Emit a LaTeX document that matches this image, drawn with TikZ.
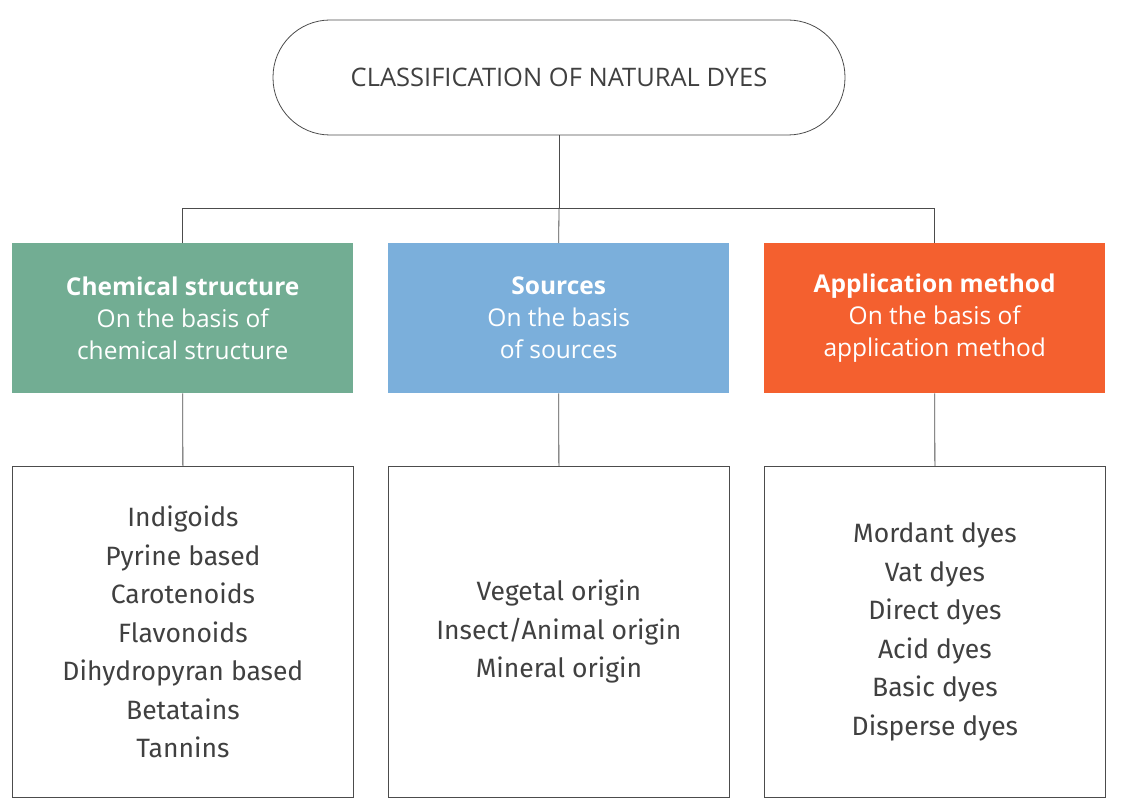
\documentclass[tikz,border=0pt]{standalone}
\usepackage{fontspec}
\setmainfont{Fira Sans}
\newfontfamily\hf{Open Sans}
\definecolor{cg}{HTML}{72AD93}
\definecolor{cb}{HTML}{7BAFDB}
\definecolor{co}{HTML}{F4602F}
\definecolor{tx}{HTML}{404040}
\begin{document}
\begin{tikzpicture}[x=1pt,y=-1pt,
  hdr/.style={draw=none,minimum width=341pt,minimum height=150pt,anchor=north west,text=white,align=center,font=\hf\fontsize{24.5}{32}\selectfont},
  lst/.style={draw=black!70,line width=0.8pt,fill=white,minimum width=341pt,minimum height=331pt,anchor=north west,text=tx,align=center,font=\fontsize{26.5}{38.5}\selectfont},
  ln/.style={draw=black!70,line width=0.8pt}]
\useasboundingbox (0,0) rectangle (1121,805);
\node[draw=black!70,line width=0.8pt,rounded corners=57pt,minimum width=572pt,minimum height=115pt,text=tx,font=\hf\fontsize{25.5}{30}\selectfont] (top) at (559,77.5) {CLASSIFICATION OF NATURAL DYES};
\node[hdr,fill=cg] (h1) at (12,243) {\textbf{Chemical structure}\\On the basis of\\chemical structure};
\node[hdr,fill=cb] (h2) at (388,243) {\textbf{Sources}\\On the basis\\of sources};
\node[hdr,fill=co] (h3) at (764,243) {\textbf{Application method}\\On the basis of\\application method};
\node[lst] (b1) at (12,466) {Indigoids\\Pyrine based\\Carotenoids\\Flavonoids\\Dihydropyran based\\Betatains\\Tannins};
\node[lst] (b2) at (388,466) {Vegetal origin\\Insect/Animal origin\\Mineral origin};
\node[lst] (b3) at (764,466) {Mordant dyes\\Vat dyes\\Direct dyes\\Acid dyes\\Basic dyes\\Disperse dyes};
\coordinate (j) at (559,208);
\draw[ln] (top.south) -- (j);
\draw[ln] (h1.north) -- ++(0,-35) -| (h3.north);
\draw[ln] (j) -- (h2.north);
\draw[ln] (h1.south) -- (b1.north);
\draw[ln] (h2.south) -- (b2.north);
\draw[ln] (h3.south) -- (b3.north);
\end{tikzpicture}
\end{document}
